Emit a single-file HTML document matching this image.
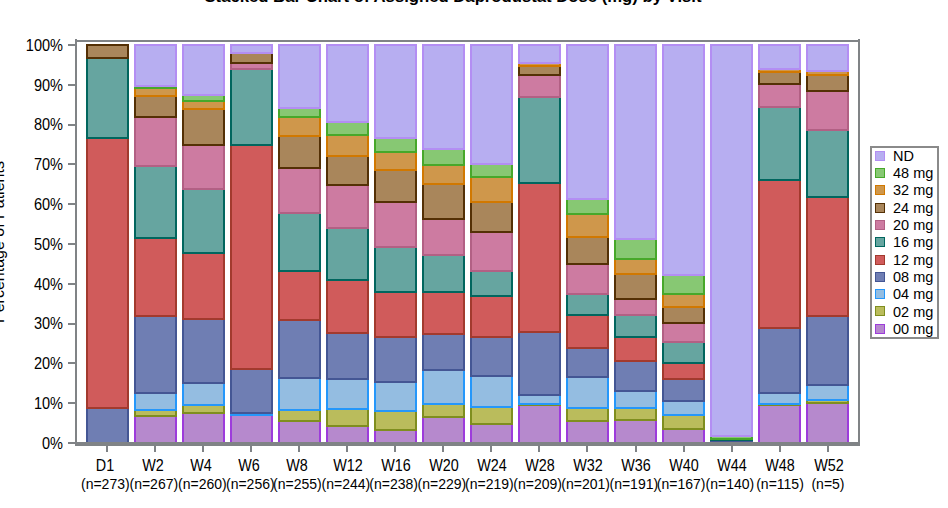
<!DOCTYPE html><html><head><meta charset="utf-8"><style>
html,body{margin:0;padding:0;background:#fff;}
body{width:948px;height:508px;overflow:hidden;position:relative;font-family:"Liberation Sans",sans-serif;color:#000;}
.a{position:absolute;}
.s{position:absolute;box-sizing:border-box;border:2px solid;}
.t{position:absolute;font-size:14px;line-height:16px;white-space:nowrap;}
</style></head><body>
<div class="a" style="left:0;width:906px;top:-13.5px;text-align:center;font-weight:bold;font-size:16.7px;line-height:20px;white-space:nowrap">Stacked Bar Chart of Assigned Daprodustat Dose (mg) by Visit</div>
<div class="a" style="left:-81px;top:235px;width:160px;text-align:center;font-size:16px;line-height:16px;white-space:nowrap;transform:rotate(-90deg)">Percentage of Patients</div>
<div class="s" style="left:86px;top:407px;width:43px;height:37px;background:#6F7EB3;border-color:#445694"></div>
<div class="s" style="left:86px;top:137px;width:43px;height:272px;background:#D05B5B;border-color:#A23A2E"></div>
<div class="s" style="left:86px;top:57px;width:43px;height:82px;background:#66A5A0;border-color:#01665E"></div>
<div class="s" style="left:86px;top:44px;width:43px;height:15px;background:#A9865B;border-color:#543005"></div>
<div class="s" style="left:134px;top:415px;width:43px;height:29px;background:#B689CD;border-color:#9D3CDB"></div>
<div class="s" style="left:134px;top:409px;width:43px;height:8px;background:#BABC5C;border-color:#7F8E1F"></div>
<div class="s" style="left:134px;top:392px;width:43px;height:19px;background:#94BDE1;border-color:#2597FA"></div>
<div class="s" style="left:134px;top:315px;width:43px;height:79px;background:#6F7EB3;border-color:#445694"></div>
<div class="s" style="left:134px;top:237px;width:43px;height:80px;background:#D05B5B;border-color:#A23A2E"></div>
<div class="s" style="left:134px;top:165px;width:43px;height:74px;background:#66A5A0;border-color:#01665E"></div>
<div class="s" style="left:134px;top:116px;width:43px;height:51px;background:#CD7BA1;border-color:#B26084"></div>
<div class="s" style="left:134px;top:95px;width:43px;height:23px;background:#A9865B;border-color:#543005"></div>
<div class="s" style="left:134px;top:87px;width:43px;height:10px;background:#CF974B;border-color:#D17800"></div>
<div class="s" style="left:134px;top:85px;width:43px;height:4px;background:#87C873;border-color:#47A82A"></div>
<div class="s" style="left:134px;top:44px;width:43px;height:43px;background:#B7AEF1;border-color:#B38EF3"></div>
<div class="s" style="left:182px;top:412px;width:43px;height:32px;background:#B689CD;border-color:#9D3CDB"></div>
<div class="s" style="left:182px;top:404px;width:43px;height:10px;background:#BABC5C;border-color:#7F8E1F"></div>
<div class="s" style="left:182px;top:382px;width:43px;height:24px;background:#94BDE1;border-color:#2597FA"></div>
<div class="s" style="left:182px;top:318px;width:43px;height:66px;background:#6F7EB3;border-color:#445694"></div>
<div class="s" style="left:182px;top:252px;width:43px;height:68px;background:#D05B5B;border-color:#A23A2E"></div>
<div class="s" style="left:182px;top:188px;width:43px;height:66px;background:#66A5A0;border-color:#01665E"></div>
<div class="s" style="left:182px;top:144px;width:43px;height:46px;background:#CD7BA1;border-color:#B26084"></div>
<div class="s" style="left:182px;top:108px;width:43px;height:38px;background:#A9865B;border-color:#543005"></div>
<div class="s" style="left:182px;top:100px;width:43px;height:10px;background:#CF974B;border-color:#D17800"></div>
<div class="s" style="left:182px;top:94px;width:43px;height:8px;background:#87C873;border-color:#47A82A"></div>
<div class="s" style="left:182px;top:44px;width:43px;height:52px;background:#B7AEF1;border-color:#B38EF3"></div>
<div class="s" style="left:230px;top:414px;width:43px;height:30px;background:#B689CD;border-color:#9D3CDB"></div>
<div class="s" style="left:230px;top:412px;width:43px;height:4px;background:#94BDE1;border-color:#2597FA"></div>
<div class="s" style="left:230px;top:368px;width:43px;height:46px;background:#6F7EB3;border-color:#445694"></div>
<div class="s" style="left:230px;top:144px;width:43px;height:226px;background:#D05B5B;border-color:#A23A2E"></div>
<div class="s" style="left:230px;top:68px;width:43px;height:78px;background:#66A5A0;border-color:#01665E"></div>
<div class="s" style="left:230px;top:62px;width:43px;height:8px;background:#CD7BA1;border-color:#B26084"></div>
<div class="s" style="left:230px;top:52px;width:43px;height:12px;background:#A9865B;border-color:#543005"></div>
<div class="s" style="left:230px;top:44px;width:43px;height:10px;background:#B7AEF1;border-color:#B38EF3"></div>
<div class="s" style="left:278px;top:420px;width:43px;height:24px;background:#B689CD;border-color:#9D3CDB"></div>
<div class="s" style="left:278px;top:409px;width:43px;height:13px;background:#BABC5C;border-color:#7F8E1F"></div>
<div class="s" style="left:278px;top:377px;width:43px;height:34px;background:#94BDE1;border-color:#2597FA"></div>
<div class="s" style="left:278px;top:319px;width:43px;height:60px;background:#6F7EB3;border-color:#445694"></div>
<div class="s" style="left:278px;top:270px;width:43px;height:51px;background:#D05B5B;border-color:#A23A2E"></div>
<div class="s" style="left:278px;top:212px;width:43px;height:60px;background:#66A5A0;border-color:#01665E"></div>
<div class="s" style="left:278px;top:167px;width:43px;height:47px;background:#CD7BA1;border-color:#B26084"></div>
<div class="s" style="left:278px;top:135px;width:43px;height:34px;background:#A9865B;border-color:#543005"></div>
<div class="s" style="left:278px;top:116px;width:43px;height:21px;background:#CF974B;border-color:#D17800"></div>
<div class="s" style="left:278px;top:107px;width:43px;height:11px;background:#87C873;border-color:#47A82A"></div>
<div class="s" style="left:278px;top:44px;width:43px;height:65px;background:#B7AEF1;border-color:#B38EF3"></div>
<div class="s" style="left:326px;top:425px;width:43px;height:19px;background:#B689CD;border-color:#9D3CDB"></div>
<div class="s" style="left:326px;top:408px;width:43px;height:19px;background:#BABC5C;border-color:#7F8E1F"></div>
<div class="s" style="left:326px;top:378px;width:43px;height:32px;background:#94BDE1;border-color:#2597FA"></div>
<div class="s" style="left:326px;top:332px;width:43px;height:48px;background:#6F7EB3;border-color:#445694"></div>
<div class="s" style="left:326px;top:279px;width:43px;height:55px;background:#D05B5B;border-color:#A23A2E"></div>
<div class="s" style="left:326px;top:227px;width:43px;height:54px;background:#66A5A0;border-color:#01665E"></div>
<div class="s" style="left:326px;top:184px;width:43px;height:45px;background:#CD7BA1;border-color:#B26084"></div>
<div class="s" style="left:326px;top:155px;width:43px;height:31px;background:#A9865B;border-color:#543005"></div>
<div class="s" style="left:326px;top:134px;width:43px;height:23px;background:#CF974B;border-color:#D17800"></div>
<div class="s" style="left:326px;top:121px;width:43px;height:15px;background:#87C873;border-color:#47A82A"></div>
<div class="s" style="left:326px;top:44px;width:43px;height:79px;background:#B7AEF1;border-color:#B38EF3"></div>
<div class="s" style="left:374px;top:429px;width:43px;height:15px;background:#B689CD;border-color:#9D3CDB"></div>
<div class="s" style="left:374px;top:410px;width:43px;height:21px;background:#BABC5C;border-color:#7F8E1F"></div>
<div class="s" style="left:374px;top:381px;width:43px;height:31px;background:#94BDE1;border-color:#2597FA"></div>
<div class="s" style="left:374px;top:336px;width:43px;height:47px;background:#6F7EB3;border-color:#445694"></div>
<div class="s" style="left:374px;top:291px;width:43px;height:47px;background:#D05B5B;border-color:#A23A2E"></div>
<div class="s" style="left:374px;top:246px;width:43px;height:47px;background:#66A5A0;border-color:#01665E"></div>
<div class="s" style="left:374px;top:201px;width:43px;height:47px;background:#CD7BA1;border-color:#B26084"></div>
<div class="s" style="left:374px;top:169px;width:43px;height:34px;background:#A9865B;border-color:#543005"></div>
<div class="s" style="left:374px;top:151px;width:43px;height:20px;background:#CF974B;border-color:#D17800"></div>
<div class="s" style="left:374px;top:137px;width:43px;height:16px;background:#87C873;border-color:#47A82A"></div>
<div class="s" style="left:374px;top:44px;width:43px;height:95px;background:#B7AEF1;border-color:#B38EF3"></div>
<div class="s" style="left:422px;top:416px;width:43px;height:28px;background:#B689CD;border-color:#9D3CDB"></div>
<div class="s" style="left:422px;top:403px;width:43px;height:15px;background:#BABC5C;border-color:#7F8E1F"></div>
<div class="s" style="left:422px;top:369px;width:43px;height:36px;background:#94BDE1;border-color:#2597FA"></div>
<div class="s" style="left:422px;top:333px;width:43px;height:38px;background:#6F7EB3;border-color:#445694"></div>
<div class="s" style="left:422px;top:291px;width:43px;height:44px;background:#D05B5B;border-color:#A23A2E"></div>
<div class="s" style="left:422px;top:254px;width:43px;height:39px;background:#66A5A0;border-color:#01665E"></div>
<div class="s" style="left:422px;top:218px;width:43px;height:38px;background:#CD7BA1;border-color:#B26084"></div>
<div class="s" style="left:422px;top:183px;width:43px;height:37px;background:#A9865B;border-color:#543005"></div>
<div class="s" style="left:422px;top:164px;width:43px;height:21px;background:#CF974B;border-color:#D17800"></div>
<div class="s" style="left:422px;top:148px;width:43px;height:18px;background:#87C873;border-color:#47A82A"></div>
<div class="s" style="left:422px;top:44px;width:43px;height:106px;background:#B7AEF1;border-color:#B38EF3"></div>
<div class="s" style="left:470px;top:423px;width:43px;height:21px;background:#B689CD;border-color:#9D3CDB"></div>
<div class="s" style="left:470px;top:406px;width:43px;height:19px;background:#BABC5C;border-color:#7F8E1F"></div>
<div class="s" style="left:470px;top:375px;width:43px;height:33px;background:#94BDE1;border-color:#2597FA"></div>
<div class="s" style="left:470px;top:336px;width:43px;height:41px;background:#6F7EB3;border-color:#445694"></div>
<div class="s" style="left:470px;top:295px;width:43px;height:43px;background:#D05B5B;border-color:#A23A2E"></div>
<div class="s" style="left:470px;top:270px;width:43px;height:27px;background:#66A5A0;border-color:#01665E"></div>
<div class="s" style="left:470px;top:231px;width:43px;height:41px;background:#CD7BA1;border-color:#B26084"></div>
<div class="s" style="left:470px;top:201px;width:43px;height:32px;background:#A9865B;border-color:#543005"></div>
<div class="s" style="left:470px;top:176px;width:43px;height:27px;background:#CF974B;border-color:#D17800"></div>
<div class="s" style="left:470px;top:163px;width:43px;height:15px;background:#87C873;border-color:#47A82A"></div>
<div class="s" style="left:470px;top:44px;width:43px;height:121px;background:#B7AEF1;border-color:#B38EF3"></div>
<div class="s" style="left:518px;top:404px;width:43px;height:40px;background:#B689CD;border-color:#9D3CDB"></div>
<div class="s" style="left:518px;top:403px;width:43px;height:3px;border-width:1px 2px;background:#BABC5C;border-color:#7F8E1F"></div>
<div class="s" style="left:518px;top:394px;width:43px;height:11px;background:#94BDE1;border-color:#2597FA"></div>
<div class="s" style="left:518px;top:331px;width:43px;height:65px;background:#6F7EB3;border-color:#445694"></div>
<div class="s" style="left:518px;top:182px;width:43px;height:151px;background:#D05B5B;border-color:#A23A2E"></div>
<div class="s" style="left:518px;top:96px;width:43px;height:88px;background:#66A5A0;border-color:#01665E"></div>
<div class="s" style="left:518px;top:74px;width:43px;height:24px;background:#CD7BA1;border-color:#B26084"></div>
<div class="s" style="left:518px;top:64.5px;width:43px;height:11.5px;background:#A9865B;border-color:#543005"></div>
<div class="s" style="left:518px;top:62px;width:43px;height:4.5px;background:#CF974B;border-color:#D17800"></div>
<div class="s" style="left:518px;top:44px;width:43px;height:20px;background:#B7AEF1;border-color:#B38EF3"></div>
<div class="s" style="left:566px;top:420px;width:43px;height:24px;background:#B689CD;border-color:#9D3CDB"></div>
<div class="s" style="left:566px;top:407px;width:43px;height:15px;background:#BABC5C;border-color:#7F8E1F"></div>
<div class="s" style="left:566px;top:376px;width:43px;height:33px;background:#94BDE1;border-color:#2597FA"></div>
<div class="s" style="left:566px;top:347px;width:43px;height:31px;background:#6F7EB3;border-color:#445694"></div>
<div class="s" style="left:566px;top:314px;width:43px;height:35px;background:#D05B5B;border-color:#A23A2E"></div>
<div class="s" style="left:566px;top:293px;width:43px;height:23px;background:#66A5A0;border-color:#01665E"></div>
<div class="s" style="left:566px;top:263px;width:43px;height:32px;background:#CD7BA1;border-color:#B26084"></div>
<div class="s" style="left:566px;top:236px;width:43px;height:29px;background:#A9865B;border-color:#543005"></div>
<div class="s" style="left:566px;top:213px;width:43px;height:25px;background:#CF974B;border-color:#D17800"></div>
<div class="s" style="left:566px;top:198px;width:43px;height:17px;background:#87C873;border-color:#47A82A"></div>
<div class="s" style="left:566px;top:44px;width:43px;height:156px;background:#B7AEF1;border-color:#B38EF3"></div>
<div class="s" style="left:614px;top:419px;width:43px;height:25px;background:#B689CD;border-color:#9D3CDB"></div>
<div class="s" style="left:614px;top:407px;width:43px;height:14px;background:#BABC5C;border-color:#7F8E1F"></div>
<div class="s" style="left:614px;top:390px;width:43px;height:19px;background:#94BDE1;border-color:#2597FA"></div>
<div class="s" style="left:614px;top:360px;width:43px;height:32px;background:#6F7EB3;border-color:#445694"></div>
<div class="s" style="left:614px;top:336px;width:43px;height:26px;background:#D05B5B;border-color:#A23A2E"></div>
<div class="s" style="left:614px;top:314px;width:43px;height:24px;background:#66A5A0;border-color:#01665E"></div>
<div class="s" style="left:614px;top:298px;width:43px;height:18px;background:#CD7BA1;border-color:#B26084"></div>
<div class="s" style="left:614px;top:273px;width:43px;height:27px;background:#A9865B;border-color:#543005"></div>
<div class="s" style="left:614px;top:258px;width:43px;height:17px;background:#CF974B;border-color:#D17800"></div>
<div class="s" style="left:614px;top:238px;width:43px;height:22px;background:#87C873;border-color:#47A82A"></div>
<div class="s" style="left:614px;top:44px;width:43px;height:196px;background:#B7AEF1;border-color:#B38EF3"></div>
<div class="s" style="left:662px;top:428px;width:43px;height:16px;background:#B689CD;border-color:#9D3CDB"></div>
<div class="s" style="left:662px;top:414px;width:43px;height:16px;background:#BABC5C;border-color:#7F8E1F"></div>
<div class="s" style="left:662px;top:400px;width:43px;height:16px;background:#94BDE1;border-color:#2597FA"></div>
<div class="s" style="left:662px;top:378px;width:43px;height:24px;background:#6F7EB3;border-color:#445694"></div>
<div class="s" style="left:662px;top:362px;width:43px;height:18px;background:#D05B5B;border-color:#A23A2E"></div>
<div class="s" style="left:662px;top:341px;width:43px;height:23px;background:#66A5A0;border-color:#01665E"></div>
<div class="s" style="left:662px;top:321.5px;width:43px;height:21.5px;background:#CD7BA1;border-color:#B26084"></div>
<div class="s" style="left:662px;top:306px;width:43px;height:17.5px;background:#A9865B;border-color:#543005"></div>
<div class="s" style="left:662px;top:293px;width:43px;height:15px;background:#CF974B;border-color:#D17800"></div>
<div class="s" style="left:662px;top:274px;width:43px;height:21px;background:#87C873;border-color:#47A82A"></div>
<div class="s" style="left:662px;top:44px;width:43px;height:232px;background:#B7AEF1;border-color:#B38EF3"></div>
<div class="s" style="left:710px;top:440px;width:43px;height:4px;background:#B689CD;border-color:#9D3CDB"></div>
<div class="s" style="left:710px;top:439px;width:43px;height:3px;border-width:1px 2px;background:#6F7EB3;border-color:#445694"></div>
<div class="s" style="left:710px;top:438px;width:43px;height:3px;border-width:1px 2px;background:#66A5A0;border-color:#01665E"></div>
<div class="s" style="left:710px;top:435px;width:43px;height:5px;background:#87C873;border-color:#47A82A"></div>
<div class="s" style="left:710px;top:44px;width:43px;height:393px;background:#B7AEF1;border-color:#B38EF3"></div>
<div class="s" style="left:758px;top:404px;width:43px;height:40px;background:#B689CD;border-color:#9D3CDB"></div>
<div class="s" style="left:758px;top:403px;width:43px;height:3px;border-width:1px 2px;background:#BABC5C;border-color:#7F8E1F"></div>
<div class="s" style="left:758px;top:392px;width:43px;height:13px;background:#94BDE1;border-color:#2597FA"></div>
<div class="s" style="left:758px;top:327px;width:43px;height:67px;background:#6F7EB3;border-color:#445694"></div>
<div class="s" style="left:758px;top:179px;width:43px;height:150px;background:#D05B5B;border-color:#A23A2E"></div>
<div class="s" style="left:758px;top:106px;width:43px;height:75px;background:#66A5A0;border-color:#01665E"></div>
<div class="s" style="left:758px;top:83px;width:43px;height:25px;background:#CD7BA1;border-color:#B26084"></div>
<div class="s" style="left:758px;top:71px;width:43px;height:14px;background:#A9865B;border-color:#543005"></div>
<div class="s" style="left:758px;top:68px;width:43px;height:5px;background:#CF974B;border-color:#D17800"></div>
<div class="s" style="left:758px;top:44px;width:43px;height:26px;background:#B7AEF1;border-color:#B38EF3"></div>
<div class="s" style="left:806px;top:402px;width:43px;height:42px;background:#B689CD;border-color:#9D3CDB"></div>
<div class="s" style="left:806px;top:399px;width:43px;height:5px;background:#BABC5C;border-color:#7F8E1F"></div>
<div class="s" style="left:806px;top:384px;width:43px;height:17px;background:#94BDE1;border-color:#2597FA"></div>
<div class="s" style="left:806px;top:315px;width:43px;height:71px;background:#6F7EB3;border-color:#445694"></div>
<div class="s" style="left:806px;top:196px;width:43px;height:121px;background:#D05B5B;border-color:#A23A2E"></div>
<div class="s" style="left:806px;top:129px;width:43px;height:69px;background:#66A5A0;border-color:#01665E"></div>
<div class="s" style="left:806px;top:90px;width:43px;height:41px;background:#CD7BA1;border-color:#B26084"></div>
<div class="s" style="left:806px;top:74px;width:43px;height:18px;background:#A9865B;border-color:#543005"></div>
<div class="s" style="left:806px;top:70px;width:43px;height:6px;background:#CF974B;border-color:#D17800"></div>
<div class="s" style="left:806px;top:44px;width:43px;height:28px;background:#B7AEF1;border-color:#B38EF3"></div>
<div class="a" style="left:75px;top:40px;width:785px;height:2px;background:#808386"></div>
<div class="a" style="left:75px;top:39px;width:2px;height:407px;background:#808386"></div>
<div class="a" style="left:858px;top:39px;width:2px;height:407px;background:#808386"></div>
<div class="a" style="left:75px;top:442px;width:785px;height:4px;background:#808386"></div>
<div class="a" style="left:68px;top:442.0px;width:7px;height:2px;background:#808386"></div>
<div class="t" style="left:13px;width:50px;top:435.8px;text-align:right;font-size:15.8px;transform:scaleX(0.92);transform-origin:100% 50%">0%</div>
<div class="a" style="left:68px;top:402.2px;width:7px;height:2px;background:#808386"></div>
<div class="t" style="left:13px;width:50px;top:396.0px;text-align:right;font-size:15.8px;transform:scaleX(0.92);transform-origin:100% 50%">10%</div>
<div class="a" style="left:68px;top:362.4px;width:7px;height:2px;background:#808386"></div>
<div class="t" style="left:13px;width:50px;top:356.2px;text-align:right;font-size:15.8px;transform:scaleX(0.92);transform-origin:100% 50%">20%</div>
<div class="a" style="left:68px;top:322.6px;width:7px;height:2px;background:#808386"></div>
<div class="t" style="left:13px;width:50px;top:316.4px;text-align:right;font-size:15.8px;transform:scaleX(0.92);transform-origin:100% 50%">30%</div>
<div class="a" style="left:68px;top:282.8px;width:7px;height:2px;background:#808386"></div>
<div class="t" style="left:13px;width:50px;top:276.6px;text-align:right;font-size:15.8px;transform:scaleX(0.92);transform-origin:100% 50%">40%</div>
<div class="a" style="left:68px;top:243.0px;width:7px;height:2px;background:#808386"></div>
<div class="t" style="left:13px;width:50px;top:236.8px;text-align:right;font-size:15.8px;transform:scaleX(0.92);transform-origin:100% 50%">50%</div>
<div class="a" style="left:68px;top:203.2px;width:7px;height:2px;background:#808386"></div>
<div class="t" style="left:13px;width:50px;top:197.0px;text-align:right;font-size:15.8px;transform:scaleX(0.92);transform-origin:100% 50%">60%</div>
<div class="a" style="left:68px;top:163.4px;width:7px;height:2px;background:#808386"></div>
<div class="t" style="left:13px;width:50px;top:157.2px;text-align:right;font-size:15.8px;transform:scaleX(0.92);transform-origin:100% 50%">70%</div>
<div class="a" style="left:68px;top:123.6px;width:7px;height:2px;background:#808386"></div>
<div class="t" style="left:13px;width:50px;top:117.4px;text-align:right;font-size:15.8px;transform:scaleX(0.92);transform-origin:100% 50%">80%</div>
<div class="a" style="left:68px;top:83.8px;width:7px;height:2px;background:#808386"></div>
<div class="t" style="left:13px;width:50px;top:77.6px;text-align:right;font-size:15.8px;transform:scaleX(0.92);transform-origin:100% 50%">90%</div>
<div class="a" style="left:68px;top:44.0px;width:7px;height:2px;background:#808386"></div>
<div class="t" style="left:13px;width:50px;top:37.8px;text-align:right;font-size:15.8px;transform:scaleX(0.92);transform-origin:100% 50%">100%</div>
<div class="a" style="left:106px;top:446px;width:2px;height:6px;background:#808386"></div>
<div class="t" style="left:64.8px;width:80px;text-align:center;top:458.4px;font-size:15.8px;transform:scaleX(0.91)">D1</div>
<div class="t" style="left:65.3px;width:80px;text-align:center;top:475.5px">(n=273)</div>
<div class="a" style="left:154px;top:446px;width:2px;height:6px;background:#808386"></div>
<div class="t" style="left:113.0px;width:80px;text-align:center;top:458.4px;font-size:15.8px;transform:scaleX(0.91)">W2</div>
<div class="t" style="left:113.8px;width:80px;text-align:center;top:475.5px">(n=267)</div>
<div class="a" style="left:202px;top:446px;width:2px;height:6px;background:#808386"></div>
<div class="t" style="left:161.2px;width:80px;text-align:center;top:458.4px;font-size:15.8px;transform:scaleX(0.91)">W4</div>
<div class="t" style="left:162.4px;width:80px;text-align:center;top:475.5px">(n=260)</div>
<div class="a" style="left:250px;top:446px;width:2px;height:6px;background:#808386"></div>
<div class="t" style="left:209.3px;width:80px;text-align:center;top:458.4px;font-size:15.8px;transform:scaleX(0.91)">W6</div>
<div class="t" style="left:210.3px;width:80px;text-align:center;top:475.5px">(n=256)</div>
<div class="a" style="left:298px;top:446px;width:2px;height:6px;background:#808386"></div>
<div class="t" style="left:257.4px;width:80px;text-align:center;top:458.4px;font-size:15.8px;transform:scaleX(0.91)">W8</div>
<div class="t" style="left:257.4px;width:80px;text-align:center;top:475.5px">(n=255)</div>
<div class="a" style="left:346px;top:446px;width:2px;height:6px;background:#808386"></div>
<div class="t" style="left:308.4px;width:80px;text-align:center;top:458.4px;font-size:15.8px;transform:scaleX(0.91)">W12</div>
<div class="t" style="left:305.9px;width:80px;text-align:center;top:475.5px">(n=244)</div>
<div class="a" style="left:394px;top:446px;width:2px;height:6px;background:#808386"></div>
<div class="t" style="left:356.1px;width:80px;text-align:center;top:458.4px;font-size:15.8px;transform:scaleX(0.91)">W16</div>
<div class="t" style="left:353.7px;width:80px;text-align:center;top:475.5px">(n=238)</div>
<div class="a" style="left:442px;top:446px;width:2px;height:6px;background:#808386"></div>
<div class="t" style="left:403.9px;width:80px;text-align:center;top:458.4px;font-size:15.8px;transform:scaleX(0.91)">W20</div>
<div class="t" style="left:401.9px;width:80px;text-align:center;top:475.5px">(n=229)</div>
<div class="a" style="left:490px;top:446px;width:2px;height:6px;background:#808386"></div>
<div class="t" style="left:451.8px;width:80px;text-align:center;top:458.4px;font-size:15.8px;transform:scaleX(0.91)">W24</div>
<div class="t" style="left:449.4px;width:80px;text-align:center;top:475.5px">(n=219)</div>
<div class="a" style="left:538px;top:446px;width:2px;height:6px;background:#808386"></div>
<div class="t" style="left:500.1px;width:80px;text-align:center;top:458.4px;font-size:15.8px;transform:scaleX(0.91)">W28</div>
<div class="t" style="left:497.7px;width:80px;text-align:center;top:475.5px">(n=209)</div>
<div class="a" style="left:586px;top:446px;width:2px;height:6px;background:#808386"></div>
<div class="t" style="left:548.1px;width:80px;text-align:center;top:458.4px;font-size:15.8px;transform:scaleX(0.91)">W32</div>
<div class="t" style="left:545.7px;width:80px;text-align:center;top:475.5px">(n=201)</div>
<div class="a" style="left:635px;top:446px;width:2px;height:6px;background:#808386"></div>
<div class="t" style="left:595.9px;width:80px;text-align:center;top:458.4px;font-size:15.8px;transform:scaleX(0.91)">W36</div>
<div class="t" style="left:593.8px;width:80px;text-align:center;top:475.5px">(n=191)</div>
<div class="a" style="left:683px;top:446px;width:2px;height:6px;background:#808386"></div>
<div class="t" style="left:644.0px;width:80px;text-align:center;top:458.4px;font-size:15.8px;transform:scaleX(0.91)">W40</div>
<div class="t" style="left:641.2px;width:80px;text-align:center;top:475.5px">(n=167)</div>
<div class="a" style="left:731px;top:446px;width:2px;height:6px;background:#808386"></div>
<div class="t" style="left:692.1px;width:80px;text-align:center;top:458.4px;font-size:15.8px;transform:scaleX(0.91)">W44</div>
<div class="t" style="left:689.9px;width:80px;text-align:center;top:475.5px">(n=140)</div>
<div class="a" style="left:779px;top:446px;width:2px;height:6px;background:#808386"></div>
<div class="t" style="left:740.3px;width:80px;text-align:center;top:458.4px;font-size:15.8px;transform:scaleX(0.91)">W48</div>
<div class="t" style="left:740.0px;width:80px;text-align:center;top:475.5px">(n=115)</div>
<div class="a" style="left:827px;top:446px;width:2px;height:6px;background:#808386"></div>
<div class="t" style="left:788.5px;width:80px;text-align:center;top:458.4px;font-size:15.8px;transform:scaleX(0.91)">W52</div>
<div class="t" style="left:788.0px;width:80px;text-align:center;top:475.5px">(n=5)</div>
<div class="a" style="left:870px;top:146px;width:69px;height:193px;box-sizing:border-box;border:2px solid #8A8A8A"></div>
<div class="a" style="left:875px;top:151px;width:10px;height:10px;box-sizing:border-box;border:1px solid #B38EF3;background:#B7AEF1"></div>
<div class="t" style="left:893px;top:147.8px;font-size:14.5px">ND</div>
<div class="a" style="left:875px;top:168px;width:10px;height:10px;box-sizing:border-box;border:1px solid #47A82A;background:#87C873"></div>
<div class="t" style="left:893px;top:165.1px;font-size:14.5px">48 mg</div>
<div class="a" style="left:875px;top:185px;width:10px;height:10px;box-sizing:border-box;border:1px solid #D17800;background:#CF974B"></div>
<div class="t" style="left:893px;top:182.4px;font-size:14.5px">32 mg</div>
<div class="a" style="left:875px;top:203px;width:10px;height:10px;box-sizing:border-box;border:1px solid #543005;background:#A9865B"></div>
<div class="t" style="left:893px;top:199.7px;font-size:14.5px">24 mg</div>
<div class="a" style="left:875px;top:220px;width:10px;height:10px;box-sizing:border-box;border:1px solid #B26084;background:#CD7BA1"></div>
<div class="t" style="left:893px;top:217.0px;font-size:14.5px">20 mg</div>
<div class="a" style="left:875px;top:237px;width:10px;height:10px;box-sizing:border-box;border:1px solid #01665E;background:#66A5A0"></div>
<div class="t" style="left:893px;top:234.3px;font-size:14.5px">16 mg</div>
<div class="a" style="left:875px;top:255px;width:10px;height:10px;box-sizing:border-box;border:1px solid #A23A2E;background:#D05B5B"></div>
<div class="t" style="left:893px;top:251.6px;font-size:14.5px">12 mg</div>
<div class="a" style="left:875px;top:272px;width:10px;height:10px;box-sizing:border-box;border:1px solid #445694;background:#6F7EB3"></div>
<div class="t" style="left:893px;top:268.9px;font-size:14.5px">08 mg</div>
<div class="a" style="left:875px;top:289px;width:10px;height:10px;box-sizing:border-box;border:1px solid #2597FA;background:#94BDE1"></div>
<div class="t" style="left:893px;top:286.2px;font-size:14.5px">04 mg</div>
<div class="a" style="left:875px;top:306px;width:10px;height:10px;box-sizing:border-box;border:1px solid #7F8E1F;background:#BABC5C"></div>
<div class="t" style="left:893px;top:303.5px;font-size:14.5px">02 mg</div>
<div class="a" style="left:875px;top:324px;width:10px;height:10px;box-sizing:border-box;border:1px solid #9D3CDB;background:#B689CD"></div>
<div class="t" style="left:893px;top:320.8px;font-size:14.5px">00 mg</div>
</body></html>
